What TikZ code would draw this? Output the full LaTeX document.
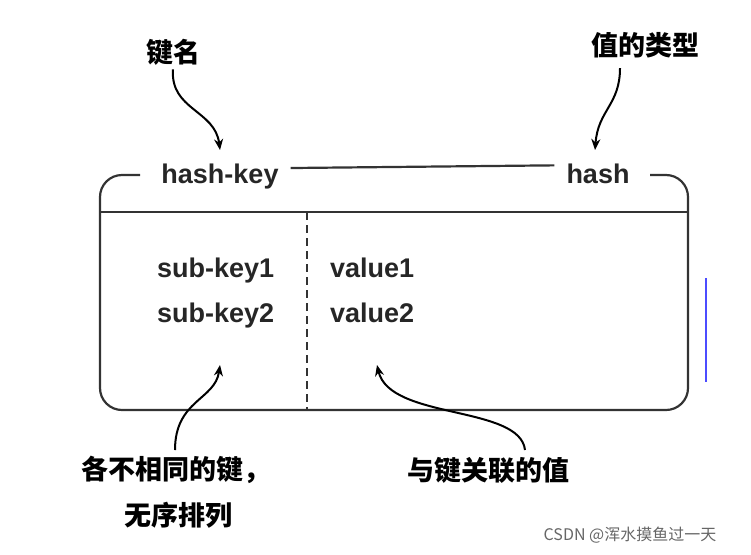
\documentclass[tikz,border=0pt]{standalone}
\usepackage{fontspec}
\setmainfont{Liberation Sans}
\newfontfamily\cjk{Noto Sans CJK SC}
\usetikzlibrary{arrows.meta,calc}
\begin{document}
\begin{tikzpicture}[x=1pt,y=-1pt,
  lbl/.style={font=\fontsize{27}{30}\selectfont\bfseries\color{black!85},inner sep=0pt,anchor=base},
  cn/.style={font=\cjk\fontsize{27}{34}\selectfont\bfseries,inner sep=0pt,align=center},
  ln/.style={line width=2.2pt,black!80},
  arr/.style={line width=2pt,-{Stealth[length=11pt,width=9pt]}}]
\useasboundingbox (0,0) rectangle (751,554);
\node[lbl] (hk) at (220,183) {hash-key};
\node[lbl] (hs) at (598,183) {hash};
\node[lbl,anchor=base west] (s1) at (157,277) {sub-key1};
\node[lbl,anchor=base west] (v1) at (330,277) {value1};
\node[lbl,anchor=base west] (s2) at (157,322) {sub-key2};
\node[lbl,anchor=base west] (v2) at (330,322) {value2};
\draw[ln,rounded corners=22pt] (140,175) -- (100,175) -- (100,410) -- (688,410) -- (688,175) -- (650,175);
\draw[ln] ($(hk.east)+(12,-8)$) -- ($(hs.west)+(-12,-8)$);
\draw[ln] (100,212) -- (688,212);
\draw[ln,dashed,dash pattern=on 8pt off 5pt] (307,212) -- (307,410);
\node[cn] (kn) at (173,52) {键名};
\node[cn] (vt) at (645,45) {值的类型};
\node[cn] (d1) at (176,470) {各不相同的键，};
\node[cn] (d2) at (178,515) {无序排列};
\node[cn] (d3) at (488,470) {与键关联的值};
\draw[arr] ($(kn.south)+(0,4)$) .. controls (170,110) and (215,110) .. (220,150);
\draw[arr] ($(vt.south)+(-25,10)$) .. controls (620,105) and (598,110) .. (595,150);
\draw[arr] (175,450) .. controls (175,400) and (215,400) .. (220,365);
\draw[arr] (525,450) .. controls (520,405) and (390,420) .. (377,365);
\draw[blue!70,line width=1.2pt] (706,278) -- (706,382);
\node[font=\cjk\fontsize{16}{18}\selectfont,text=black!60] (wm) at (630,535) {CSDN @浑水摸鱼过一天};
\end{tikzpicture}
\end{document}
